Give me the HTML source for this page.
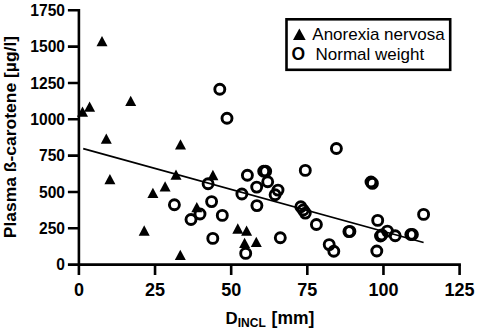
<!DOCTYPE html>
<html><head><meta charset="utf-8"><style>
html,body{margin:0;padding:0;background:#fff;width:480px;height:331px;overflow:hidden}
svg{position:absolute;left:0;top:0}
text{font-family:"Liberation Sans",sans-serif;fill:#000}
.tly{font-weight:bold;font-size:15.6px}
.tlx{font-weight:bold;font-size:18px}
.lg{font-size:17px}
.lo{font-size:17.5px;font-weight:bold}
.yt{font-weight:bold;font-size:16px}
.xt{font-weight:bold;font-size:16px}
</style></head><body>
<svg width="480" height="331" viewBox="0 0 480 331">
<path d="M78.9 9.0 V264.6 H460.90000000000003" fill="none" stroke="#000" stroke-width="2.6" stroke-linejoin="miter"/>
<path d="M67.9 264.60 H78.9 M67.9 228.27 H78.9 M67.9 191.94 H78.9 M67.9 155.61 H78.9 M67.9 119.29 H78.9 M67.9 82.96 H78.9 M67.9 46.63 H78.9 M67.9 10.30 H78.9 M78.90 264.6 V275.0 M155.04 264.6 V275.0 M231.18 264.6 V275.0 M307.32 264.6 V275.0 M383.46 264.6 V275.0 M459.60 264.6 V275.0" fill="none" stroke="#000" stroke-width="2.6"/>
<text x="65.0" y="270.20" text-anchor="end" class="tly">0</text>
<text x="65.0" y="233.87" text-anchor="end" class="tly">250</text>
<text x="65.0" y="197.54" text-anchor="end" class="tly">500</text>
<text x="65.0" y="161.21" text-anchor="end" class="tly">750</text>
<text x="65.0" y="124.89" text-anchor="end" class="tly">1000</text>
<text x="65.0" y="88.56" text-anchor="end" class="tly">1250</text>
<text x="65.0" y="52.23" text-anchor="end" class="tly">1500</text>
<text x="65.0" y="15.90" text-anchor="end" class="tly">1750</text>
<text x="78.90" y="296" text-anchor="middle" class="tlx">0</text>
<text x="155.04" y="296" text-anchor="middle" class="tlx">25</text>
<text x="231.18" y="296" text-anchor="middle" class="tlx">50</text>
<text x="307.32" y="296" text-anchor="middle" class="tlx">75</text>
<text x="383.46" y="296" text-anchor="middle" class="tlx">100</text>
<text x="459.60" y="296" text-anchor="middle" class="tlx">125</text>
<line x1="83.2" y1="148.7" x2="423.6" y2="242.5" stroke="#000" stroke-width="1.75"/>
<path d="M102.00 36.05 L107.50 46.35 L96.50 46.35Z" fill="#000"/>
<path d="M130.70 95.65 L136.20 105.95 L125.20 105.95Z" fill="#000"/>
<path d="M89.60 101.55 L95.10 111.85 L84.10 111.85Z" fill="#000"/>
<path d="M82.50 106.55 L88.00 116.85 L77.00 116.85Z" fill="#000"/>
<path d="M106.30 133.45 L111.80 143.75 L100.80 143.75Z" fill="#000"/>
<path d="M180.50 139.25 L186.00 149.55 L175.00 149.55Z" fill="#000"/>
<path d="M109.90 173.95 L115.40 184.25 L104.40 184.25Z" fill="#000"/>
<path d="M165.10 181.15 L170.60 191.45 L159.60 191.45Z" fill="#000"/>
<path d="M152.90 187.65 L158.40 197.95 L147.40 197.95Z" fill="#000"/>
<path d="M176.00 169.55 L181.50 179.85 L170.50 179.85Z" fill="#000"/>
<path d="M144.20 225.35 L149.70 235.65 L138.70 235.65Z" fill="#000"/>
<path d="M212.90 169.85 L218.40 180.15 L207.40 180.15Z" fill="#000"/>
<path d="M196.80 202.05 L202.30 212.35 L191.30 212.35Z" fill="#000"/>
<path d="M180.30 249.65 L185.80 259.95 L174.80 259.95Z" fill="#000"/>
<path d="M237.80 223.35 L243.30 233.65 L232.30 233.65Z" fill="#000"/>
<path d="M246.60 225.45 L252.10 235.75 L241.10 235.75Z" fill="#000"/>
<path d="M244.60 237.65 L250.10 247.95 L239.10 247.95Z" fill="#000"/>
<path d="M256.30 236.65 L261.80 246.95 L250.80 246.95Z" fill="#000"/>
<circle cx="219.8" cy="89.2" r="5.0" fill="none" stroke="#000" stroke-width="2.9"/>
<circle cx="227" cy="118.2" r="5.0" fill="none" stroke="#000" stroke-width="2.9"/>
<circle cx="174.4" cy="204.8" r="5.0" fill="none" stroke="#000" stroke-width="2.9"/>
<circle cx="200" cy="214" r="5.0" fill="none" stroke="#000" stroke-width="2.9"/>
<circle cx="191" cy="219.5" r="5.0" fill="none" stroke="#000" stroke-width="2.9"/>
<circle cx="208.1" cy="183.8" r="5.0" fill="none" stroke="#000" stroke-width="2.9"/>
<circle cx="211.6" cy="201.6" r="5.0" fill="none" stroke="#000" stroke-width="2.9"/>
<circle cx="222.3" cy="215.4" r="5.0" fill="none" stroke="#000" stroke-width="2.9"/>
<circle cx="212.8" cy="238.4" r="5.0" fill="none" stroke="#000" stroke-width="2.9"/>
<circle cx="245.7" cy="253.4" r="5.0" fill="none" stroke="#000" stroke-width="2.9"/>
<circle cx="247.4" cy="175.2" r="5.0" fill="none" stroke="#000" stroke-width="2.9"/>
<circle cx="241.9" cy="194" r="5.0" fill="none" stroke="#000" stroke-width="2.9"/>
<circle cx="256.7" cy="187.1" r="5.0" fill="none" stroke="#000" stroke-width="2.9"/>
<circle cx="256.9" cy="205.6" r="5.0" fill="none" stroke="#000" stroke-width="2.9"/>
<circle cx="263.7" cy="171.3" r="5.0" fill="none" stroke="#000" stroke-width="2.9"/>
<circle cx="265.7" cy="171.3" r="5.0" fill="none" stroke="#000" stroke-width="2.9"/>
<circle cx="267.7" cy="181.8" r="5.0" fill="none" stroke="#000" stroke-width="2.9"/>
<circle cx="278" cy="190.1" r="5.0" fill="none" stroke="#000" stroke-width="2.9"/>
<circle cx="275.1" cy="194.8" r="5.0" fill="none" stroke="#000" stroke-width="2.9"/>
<circle cx="280.3" cy="237.7" r="5.0" fill="none" stroke="#000" stroke-width="2.9"/>
<circle cx="305.3" cy="170.4" r="5.0" fill="none" stroke="#000" stroke-width="2.9"/>
<circle cx="300.8" cy="206.8" r="5.0" fill="none" stroke="#000" stroke-width="2.9"/>
<circle cx="303.2" cy="210" r="5.0" fill="none" stroke="#000" stroke-width="2.9"/>
<circle cx="305.3" cy="213.1" r="5.0" fill="none" stroke="#000" stroke-width="2.9"/>
<circle cx="316.4" cy="224.5" r="5.0" fill="none" stroke="#000" stroke-width="2.9"/>
<circle cx="329.2" cy="244.6" r="5.0" fill="none" stroke="#000" stroke-width="2.9"/>
<circle cx="333.8" cy="251.2" r="5.0" fill="none" stroke="#000" stroke-width="2.9"/>
<circle cx="348.9" cy="231.6" r="5.0" fill="none" stroke="#000" stroke-width="2.9"/>
<circle cx="349.9" cy="231.4" r="5.0" fill="none" stroke="#000" stroke-width="2.9"/>
<circle cx="336.4" cy="148.5" r="5.0" fill="none" stroke="#000" stroke-width="2.9"/>
<circle cx="371" cy="182" r="5.0" fill="none" stroke="#000" stroke-width="2.9"/>
<circle cx="372.4" cy="183.4" r="5.0" fill="none" stroke="#000" stroke-width="2.9"/>
<circle cx="377.7" cy="220.4" r="5.0" fill="none" stroke="#000" stroke-width="2.9"/>
<circle cx="381.8" cy="235" r="5.0" fill="none" stroke="#000" stroke-width="2.9"/>
<circle cx="380.5" cy="236" r="5.0" fill="none" stroke="#000" stroke-width="2.9"/>
<circle cx="387.4" cy="231.1" r="5.0" fill="none" stroke="#000" stroke-width="2.9"/>
<circle cx="395.2" cy="235.8" r="5.0" fill="none" stroke="#000" stroke-width="2.9"/>
<circle cx="376.8" cy="251" r="5.0" fill="none" stroke="#000" stroke-width="2.9"/>
<circle cx="410.8" cy="234.5" r="5.0" fill="none" stroke="#000" stroke-width="2.9"/>
<circle cx="412.4" cy="234.5" r="5.0" fill="none" stroke="#000" stroke-width="2.9"/>
<circle cx="423.6" cy="214.4" r="5.0" fill="none" stroke="#000" stroke-width="2.9"/>
<rect x="286.5" y="19.3" width="163.7" height="50.5" fill="none" stroke="#000" stroke-width="2.6"/>
<path d="M299.35 28.6 L305.7 39.9 L293.0 39.9Z" fill="#000"/>
<text x="291.4" y="60" class="lo">O</text>
<text x="312.3" y="39.5" class="lg">Anorexia nervosa</text>
<text x="315.5" y="59.5" class="lg">Normal weight</text>
<text transform="translate(16,137.1) rotate(-90) scale(1.093,1)" text-anchor="middle" class="yt">Plasma ß-carotene [µg/l]</text>
<text x="225.6" y="323.6" class="xt"><tspan font-size="16.8">D</tspan><tspan font-size="12" dy="3">INCL</tspan><tspan dy="-3" dx="1" font-size="17.5"> [mm]</tspan></text>
</svg>
</body></html>
